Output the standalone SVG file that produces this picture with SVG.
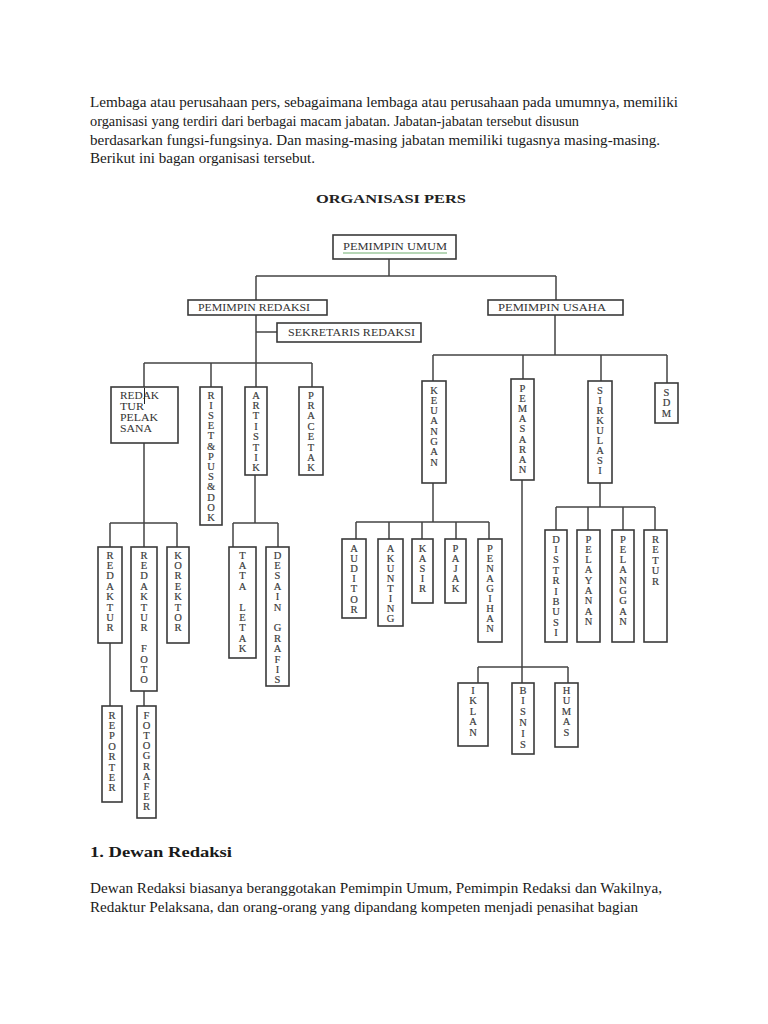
<svg xmlns="http://www.w3.org/2000/svg" width="768" height="1024" viewBox="0 0 768 1024">
<style>
.p{font-family:"Liberation Serif","Times New Roman",serif;font-size:14.5px;fill:#1a1a1a}
.t{font-family:"Liberation Serif","Times New Roman",serif;font-size:13px;font-weight:bold;fill:#222}
.box{fill:#fff;stroke:#3a3a3a;stroke-width:1.6}
.ln{stroke:#444;stroke-width:1.5;fill:none}
.h{font-family:"Liberation Serif","Times New Roman",serif;font-size:9.5px;fill:#333}
.v{font-family:"Liberation Serif","Times New Roman",serif;font-size:10.5px;fill:#333;text-anchor:middle;stroke:#555;stroke-width:0.2}
</style>
<rect width="768" height="1024" fill="#fff"/>
<g id="intro">
<text class="p" x="90" y="107" textLength="588" lengthAdjust="spacingAndGlyphs">Lembaga atau perusahaan pers, sebagaimana lembaga atau perusahaan pada umumnya, memiliki</text>
<text class="p" x="90" y="126" textLength="489" lengthAdjust="spacingAndGlyphs">organisasi yang terdiri dari berbagai macam jabatan. Jabatan-jabatan tersebut disusun</text>
<text class="p" x="90" y="145" textLength="570" lengthAdjust="spacingAndGlyphs">berdasarkan fungsi-fungsinya. Dan masing-masing jabatan memiliki tugasnya masing-masing.</text>
<text class="p" x="90" y="163" textLength="225" lengthAdjust="spacingAndGlyphs">Berikut ini bagan organisasi tersebut.</text>
</g>
<text id="title" class="t" x="316" y="203" textLength="150" lengthAdjust="spacingAndGlyphs">ORGANISASI PERS</text>
<g id="connectors">
<path class="ln" d="M389 259V276M256 276H556M256 276V300M556 276V300"/>
<path class="ln" d="M256 315V387M256 332H277M144 363H312M144 363V387M211 363V387M312 363V387"/>
<path class="ln" d="M144 443V547M110 523H177M110 523V547M177 523V547M110 643V706M144 691V706"/>
<path class="ln" d="M255 475V523M233 523H278M233 523V547M278 523V547"/>
<path class="ln" d="M555 315V355M433 355H667M433 355V381M523 355V379M601 355V381M667 355V383"/>
<path class="ln" d="M433 483V522M356 522H489M356 522V539M389 522V539M422 522V539M456 522V539M489 522V539"/>
<path class="ln" d="M600 483V507M556 507H655M556 507V530M588 507V530M623 507V530M655 507V530"/>
<path class="ln" d="M522 480V683M478 667H568M478 667V683M568 667V683"/>
</g>
<g id="pemimpin-umum"><rect class="box" x="333" y="235" width="123" height="24"/><text class="h" x="343" y="250" textLength="104" lengthAdjust="spacingAndGlyphs">PEMIMPIN  UMUM</text><line x1="343" y1="253" x2="447" y2="253" stroke="#4a9a4a" stroke-width="0.8"/></g>
<g id="pemimpin-redaksi"><rect class="box" x="188" y="300" width="139" height="15"/><text class="h" x="198" y="311" textLength="112" lengthAdjust="spacingAndGlyphs">PEMIMPIN REDAKSI</text></g>
<g id="pemimpin-usaha"><rect class="box" x="488" y="300" width="135" height="15"/><text class="h" x="498" y="311" textLength="108" lengthAdjust="spacingAndGlyphs">PEMIMPIN   USAHA</text></g>
<g id="sekretaris-redaksi"><rect class="box" x="277" y="323" width="144" height="19"/><text class="h" x="288" y="335.5" textLength="127" lengthAdjust="spacingAndGlyphs">SEKRETARIS REDAKSI</text></g>
<g id="redaktur-pelaksana"><rect class="box" x="111" y="387" width="67" height="56"/>
<text class="h" font-size="10.5"><tspan x="120" y="398.5" textLength="39" lengthAdjust="spacingAndGlyphs">REDAK</tspan><tspan x="120" y="409.5" textLength="24" lengthAdjust="spacingAndGlyphs">TUR</tspan><tspan x="120" y="420.5" textLength="38" lengthAdjust="spacingAndGlyphs">PELAK</tspan><tspan x="120" y="431.5" textLength="32" lengthAdjust="spacingAndGlyphs">SANA</tspan></text>
<line x1="144.5" y1="388" x2="144.5" y2="404" stroke="#222" stroke-width="1"/></g>
<g id="riset"><rect class="box" x="200" y="387" width="22" height="138"/><text class="v" y="398.5"><tspan x="211">R</tspan><tspan x="211" dy="10.2">I</tspan><tspan x="211" dy="10.2">S</tspan><tspan x="211" dy="10.2">E</tspan><tspan x="211" dy="10.2">T</tspan><tspan x="211" dy="10.2">&amp;</tspan><tspan x="211" dy="10.2">P</tspan><tspan x="211" dy="10.2">U</tspan><tspan x="211" dy="10.2">S</tspan><tspan x="211" dy="10.2">&amp;</tspan><tspan x="211" dy="10.2">D</tspan><tspan x="211" dy="10.2">O</tspan><tspan x="211" dy="10.2">K</tspan></text></g>
<g id="artistik"><rect class="box" x="245" y="387" width="22" height="88"/><text class="v" y="398.5"><tspan x="256">A</tspan><tspan x="256" dy="10.4">R</tspan><tspan x="256" dy="10.4">T</tspan><tspan x="256" dy="10.4">I</tspan><tspan x="256" dy="10.4">S</tspan><tspan x="256" dy="10.4">T</tspan><tspan x="256" dy="10.4">I</tspan><tspan x="256" dy="10.4">K</tspan></text></g>
<g id="pracetak"><rect class="box" x="299" y="387" width="24" height="88"/><text class="v" y="398.5"><tspan x="311">P</tspan><tspan x="311" dy="10.4">R</tspan><tspan x="311" dy="10.4">A</tspan><tspan x="311" dy="10.4">C</tspan><tspan x="311" dy="10.4">E</tspan><tspan x="311" dy="10.4">T</tspan><tspan x="311" dy="10.4">A</tspan><tspan x="311" dy="10.4">K</tspan></text></g>
<g id="redaktur"><rect class="box" x="98" y="547" width="24" height="96"/><text class="v" y="558.5"><tspan x="110">R</tspan><tspan x="110" dy="10.4">E</tspan><tspan x="110" dy="10.4">D</tspan><tspan x="110" dy="10.4">A</tspan><tspan x="110" dy="10.4">K</tspan><tspan x="110" dy="10.4">T</tspan><tspan x="110" dy="10.4">U</tspan><tspan x="110" dy="10.4">R</tspan></text></g>
<g id="redaktur-foto"><rect class="box" x="131" y="547" width="26" height="144"/><text class="v" y="558.5"><tspan x="144">R</tspan><tspan x="144" dy="10.4">E</tspan><tspan x="144" dy="10.4">D</tspan><tspan x="144" dy="10.4">A</tspan><tspan x="144" dy="10.4">K</tspan><tspan x="144" dy="10.4">T</tspan><tspan x="144" dy="10.4">U</tspan><tspan x="144" dy="10.4">R</tspan><tspan x="144" dy="20.8">F</tspan><tspan x="144" dy="10.4">O</tspan><tspan x="144" dy="10.4">T</tspan><tspan x="144" dy="10.4">O</tspan></text></g>
<g id="korektor"><rect class="box" x="167" y="547" width="22" height="96"/><text class="v" y="558.5"><tspan x="178">K</tspan><tspan x="178" dy="10.4">O</tspan><tspan x="178" dy="10.4">R</tspan><tspan x="178" dy="10.4">E</tspan><tspan x="178" dy="10.4">K</tspan><tspan x="178" dy="10.4">T</tspan><tspan x="178" dy="10.4">O</tspan><tspan x="178" dy="10.4">R</tspan></text></g>
<g id="tata-letak"><rect class="box" x="229" y="547" width="27" height="111"/><text class="v" y="558.5"><tspan x="242.5">T</tspan><tspan x="242.5" dy="10.4">A</tspan><tspan x="242.5" dy="10.4">T</tspan><tspan x="242.5" dy="10.4">A</tspan><tspan x="242.5" dy="20.8">L</tspan><tspan x="242.5" dy="10.4">E</tspan><tspan x="242.5" dy="10.4">T</tspan><tspan x="242.5" dy="10.4">A</tspan><tspan x="242.5" dy="10.4">K</tspan></text></g>
<g id="desain-grafis"><rect class="box" x="266" y="547" width="23" height="139"/><text class="v" y="558.5"><tspan x="277.5">D</tspan><tspan x="277.5" dy="10.4">E</tspan><tspan x="277.5" dy="10.4">S</tspan><tspan x="277.5" dy="10.4">A</tspan><tspan x="277.5" dy="10.4">I</tspan><tspan x="277.5" dy="10.4">N</tspan><tspan x="277.5" dy="20.8">G</tspan><tspan x="277.5" dy="10.4">R</tspan><tspan x="277.5" dy="10.4">A</tspan><tspan x="277.5" dy="10.4">F</tspan><tspan x="277.5" dy="10.4">I</tspan><tspan x="277.5" dy="10.4">S</tspan></text></g>
<g id="reporter"><rect class="box" x="102" y="706" width="20" height="96"/><text class="v" y="718.5"><tspan x="112">R</tspan><tspan x="112" dy="10.4">E</tspan><tspan x="112" dy="10.4">P</tspan><tspan x="112" dy="10.4">O</tspan><tspan x="112" dy="10.4">R</tspan><tspan x="112" dy="10.4">T</tspan><tspan x="112" dy="10.4">E</tspan><tspan x="112" dy="10.4">R</tspan></text></g>
<g id="fotografer"><rect class="box" x="137" y="706" width="19" height="112"/><text class="v" y="718.5"><tspan x="146.5">F</tspan><tspan x="146.5" dy="10.2">O</tspan><tspan x="146.5" dy="10.2">T</tspan><tspan x="146.5" dy="10.2">O</tspan><tspan x="146.5" dy="10.2">G</tspan><tspan x="146.5" dy="10.2">R</tspan><tspan x="146.5" dy="10.2">A</tspan><tspan x="146.5" dy="10.2">F</tspan><tspan x="146.5" dy="10.2">E</tspan><tspan x="146.5" dy="10.2">R</tspan></text></g>
<g id="keuangan"><rect class="box" x="422" y="381" width="24" height="102"/><text class="v" y="393.5"><tspan x="434">K</tspan><tspan x="434" dy="10.3">E</tspan><tspan x="434" dy="10.3">U</tspan><tspan x="434" dy="10.3">A</tspan><tspan x="434" dy="10.3">N</tspan><tspan x="434" dy="10.3">G</tspan><tspan x="434" dy="10.3">A</tspan><tspan x="434" dy="10.3">N</tspan></text></g>
<g id="pemasaran"><rect class="box" x="511" y="379" width="23" height="101"/><text class="v" y="391.5"><tspan x="522.5">P</tspan><tspan x="522.5" dy="10.2">E</tspan><tspan x="522.5" dy="10.2">M</tspan><tspan x="522.5" dy="10.2">A</tspan><tspan x="522.5" dy="10.2">S</tspan><tspan x="522.5" dy="10.2">A</tspan><tspan x="522.5" dy="10.2">R</tspan><tspan x="522.5" dy="10.2">A</tspan><tspan x="522.5" dy="10.2">N</tspan></text></g>
<g id="sirkulasi"><rect class="box" x="588" y="381" width="24" height="102"/><text class="v" y="393.5"><tspan x="600">S</tspan><tspan x="600" dy="10.1">I</tspan><tspan x="600" dy="10.1">R</tspan><tspan x="600" dy="10.1">K</tspan><tspan x="600" dy="10.1">U</tspan><tspan x="600" dy="10.1">L</tspan><tspan x="600" dy="10.1">A</tspan><tspan x="600" dy="10.1">S</tspan><tspan x="600" dy="10.1">I</tspan></text></g>
<g id="sdm"><rect class="box" x="655" y="383" width="23" height="40"/><text class="v" y="395.5"><tspan x="666.5">S</tspan><tspan x="666.5" dy="10.5">D</tspan><tspan x="666.5" dy="10.5">M</tspan></text></g>
<g id="auditor"><rect class="box" x="342" y="539" width="24" height="79"/><text class="v" y="551.5"><tspan x="354">A</tspan><tspan x="354" dy="10.2">U</tspan><tspan x="354" dy="10.2">D</tspan><tspan x="354" dy="10.2">I</tspan><tspan x="354" dy="10.2">T</tspan><tspan x="354" dy="10.2">O</tspan><tspan x="354" dy="10.2">R</tspan></text></g>
<g id="akunting"><rect class="box" x="378" y="539" width="25" height="87"/><text class="v" y="551.5"><tspan x="390.5">A</tspan><tspan x="390.5" dy="10">K</tspan><tspan x="390.5" dy="10">U</tspan><tspan x="390.5" dy="10">N</tspan><tspan x="390.5" dy="10">T</tspan><tspan x="390.5" dy="10">I</tspan><tspan x="390.5" dy="10">N</tspan><tspan x="390.5" dy="10">G</tspan></text></g>
<g id="kasir"><rect class="box" x="412" y="539" width="21" height="64"/><text class="v" y="551.5"><tspan x="422.5">K</tspan><tspan x="422.5" dy="10.2">A</tspan><tspan x="422.5" dy="10.2">S</tspan><tspan x="422.5" dy="10.2">I</tspan><tspan x="422.5" dy="10.2">R</tspan></text></g>
<g id="pajak"><rect class="box" x="445" y="539" width="21" height="64"/><text class="v" y="551.5"><tspan x="455.5">P</tspan><tspan x="455.5" dy="10.2">A</tspan><tspan x="455.5" dy="10.2">J</tspan><tspan x="455.5" dy="10.2">A</tspan><tspan x="455.5" dy="10.2">K</tspan></text></g>
<g id="penagihan"><rect class="box" x="478" y="539" width="24" height="103"/><text class="v" y="551.5"><tspan x="490">P</tspan><tspan x="490" dy="10.1">E</tspan><tspan x="490" dy="10.1">N</tspan><tspan x="490" dy="10.1">A</tspan><tspan x="490" dy="10.1">G</tspan><tspan x="490" dy="10.1">I</tspan><tspan x="490" dy="10.1">H</tspan><tspan x="490" dy="10.1">A</tspan><tspan x="490" dy="10.1">N</tspan></text></g>
<g id="distribusi"><rect class="box" x="545" y="530" width="22" height="112"/><text class="v" y="542.5"><tspan x="556">D</tspan><tspan x="556" dy="10.4">I</tspan><tspan x="556" dy="10.4">S</tspan><tspan x="556" dy="10.4">T</tspan><tspan x="556" dy="10.4">R</tspan><tspan x="556" dy="10.4">I</tspan><tspan x="556" dy="10.4">B</tspan><tspan x="556" dy="10.4">U</tspan><tspan x="556" dy="10.4">S</tspan><tspan x="556" dy="10.4">I</tspan></text></g>
<g id="pelayanan"><rect class="box" x="577" y="530" width="23" height="112"/><text class="v" y="542.5"><tspan x="588.5">P</tspan><tspan x="588.5" dy="10.3">E</tspan><tspan x="588.5" dy="10.3">L</tspan><tspan x="588.5" dy="10.3">A</tspan><tspan x="588.5" dy="10.3">Y</tspan><tspan x="588.5" dy="10.3">A</tspan><tspan x="588.5" dy="10.3">N</tspan><tspan x="588.5" dy="10.3">A</tspan><tspan x="588.5" dy="10.3">N</tspan></text></g>
<g id="pelanggan"><rect class="box" x="612" y="530" width="22" height="112"/><text class="v" y="542.5"><tspan x="623">P</tspan><tspan x="623" dy="10.3">E</tspan><tspan x="623" dy="10.3">L</tspan><tspan x="623" dy="10.3">A</tspan><tspan x="623" dy="10.3">N</tspan><tspan x="623" dy="10.3">G</tspan><tspan x="623" dy="10.3">G</tspan><tspan x="623" dy="10.3">A</tspan><tspan x="623" dy="10.3">N</tspan></text></g>
<g id="retur"><rect class="box" x="644" y="530" width="23" height="112"/><text class="v" y="542.5"><tspan x="655.5">R</tspan><tspan x="655.5" dy="10.5">E</tspan><tspan x="655.5" dy="10.5">T</tspan><tspan x="655.5" dy="10.5">U</tspan><tspan x="655.5" dy="10.5">R</tspan></text></g>
<g id="iklan"><rect class="box" x="458" y="683" width="30" height="63"/><text class="v" y="693.5"><tspan x="473">I</tspan><tspan x="473" dy="10.5">K</tspan><tspan x="473" dy="10.5">L</tspan><tspan x="473" dy="10.5">A</tspan><tspan x="473" dy="10.5">N</tspan></text></g>
<g id="bisnis"><rect class="box" x="512" y="683" width="22" height="71"/><text class="v" y="693.5"><tspan x="523">B</tspan><tspan x="523" dy="10.8">I</tspan><tspan x="523" dy="10.8">S</tspan><tspan x="523" dy="10.8">N</tspan><tspan x="523" dy="10.8">I</tspan><tspan x="523" dy="10.8">S</tspan></text></g>
<g id="humas"><rect class="box" x="555" y="683" width="23" height="64"/><text class="v" y="693.5"><tspan x="566.5">H</tspan><tspan x="566.5" dy="10.5">U</tspan><tspan x="566.5" dy="10.5">M</tspan><tspan x="566.5" dy="10.5">A</tspan><tspan x="566.5" dy="10.5">S</tspan></text></g>
<g id="section">
<text class="p" x="90" y="857" font-weight="bold" textLength="142" lengthAdjust="spacingAndGlyphs">1. Dewan Redaksi</text>
<text class="p" x="90" y="893" textLength="572" lengthAdjust="spacingAndGlyphs">Dewan Redaksi biasanya beranggotakan Pemimpin Umum, Pemimpin Redaksi dan Wakilnya,</text>
<text class="p" x="90" y="912" textLength="548" lengthAdjust="spacingAndGlyphs">Redaktur Pelaksana, dan orang-orang yang dipandang kompeten menjadi penasihat bagian</text>
</g>
</svg>
